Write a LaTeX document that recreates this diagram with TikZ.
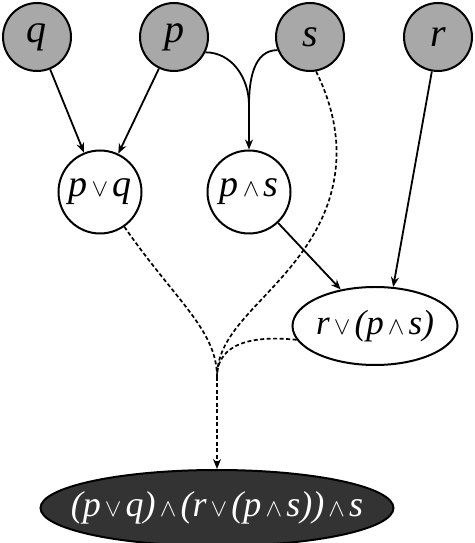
\documentclass[tikz,border=0pt]{standalone}
\usepackage{fontspec}
\setmainfont{Liberation Serif}
\usepackage{tikz}
\usetikzlibrary{shapes.geometric, arrows.meta}
\definecolor{leaf}{RGB}{168, 168, 168}
\definecolor{goal}{RGB}{51, 51, 51}
\newcommand{\disj}{\ensuremath{\mkern3mu\scriptstyle\vee\mkern3mu}}
\newcommand{\conj}{\ensuremath{\mkern3mu\scriptstyle\wedge\mkern3mu}}
\tikzset{
    atom/.style={circle, draw=black, line width=2pt, fill=leaf, minimum size=68pt, inner sep=0pt, font=\fontsize{40}{44}\selectfont\itshape},
    formula/.style={circle, draw=black, line width=2pt, fill=white, minimum size=83pt, inner sep=0pt, font=\fontsize{38}{42}\selectfont\itshape},
    ovalbox/.style={ellipse, draw=black, line width=2pt, fill=white, minimum width=165pt, minimum height=78pt, inner sep=0pt, font=\fontsize{35}{40}\selectfont\itshape},
    goalnode/.style={ellipse, draw=black, line width=2pt, fill=goal, text=white, minimum width=353pt, minimum height=76pt, inner sep=0pt, font=\fontsize{36}{40}\selectfont\itshape},
    arrow/.style={line width=1.8pt, -{Stealth[length=10pt, width=8pt]}},
    plainline/.style={line width=1.8pt},
    dashedline/.style={line width=1.7pt, dash pattern=on 4pt off 2.5pt},
    dashedarrow/.style={dashedline, -{Stealth[length=10pt, width=8pt]}}
}
\begin{document}
\begin{tikzpicture}[x=1pt, y=1pt]
    \useasboundingbox (0, 0) rectangle (474, 543);

    % Atoms
    \node[atom] (q) at (37, 506) {q};
    \node[atom] (p) at (174, 506) {p};
    \node[atom] (s) at (310, 506) {s};
    \node[atom] (r) at (438, 506) {r};

    % Intermediate formulas
    \node[formula] (pq) at (100, 351) {\makebox[0pt]{p\disj q}};
    \node[formula] (ps) at (249, 351) {\makebox[0pt]{p\conj s}};
    \node[ovalbox] (rps) at (375, 217) {\makebox[0pt]{r\disj(p\conj s)}};

    % Result
    \node[goalnode] (final) at (217, 35) {\makebox[0pt]{(p\disj q)\conj(r\disj(p\conj s))\conj s}};

    \coordinate (join) at (249, 438);
    \coordinate (merge) at (217, 166);

    % Solid arrows
    \draw[arrow] (q) -- (pq);
    \draw[arrow] (p) -- (pq);
    \draw[arrow] (p.-26) to[out=0, in=90] (join) -- (ps);
    \draw[plainline] (s.202) to[out=180, in=90] (join);
    \draw[arrow] (ps) -- (rps);
    \draw[arrow] (r) -- (rps.65);

    % Dashed lines
    \draw[dashedline] (pq.-55) .. controls (175, 243) and (217, 213) .. (merge);
    \draw[dashedline] (s.-80) .. controls (345, 413) and (345, 353) .. (305, 295) .. controls (267, 240) and (217, 213) .. (merge);
    \draw[dashedline] (rps.190) .. controls (240, 209) and (217, 193) .. (merge);
    \draw[dashedarrow] (merge) -- (final);
\end{tikzpicture}
\end{document}
